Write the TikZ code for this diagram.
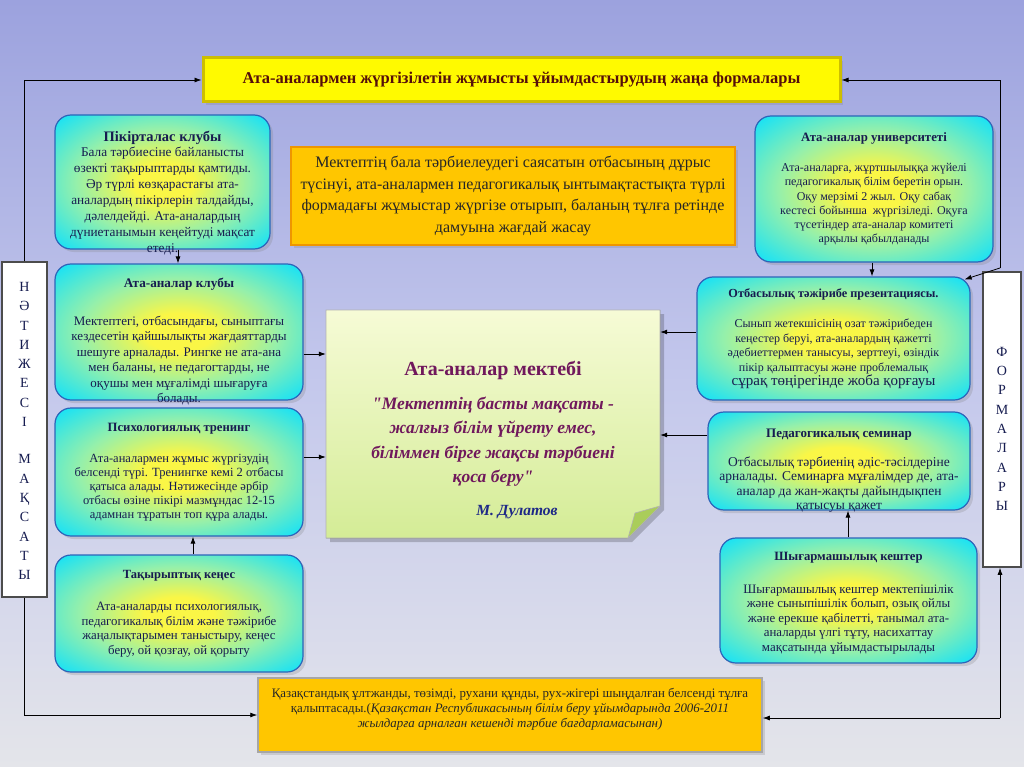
\documentclass[tikz,border=0pt]{standalone}
\usepackage{fontspec}
\setmainfont{Liberation Serif}
\usepackage{tikz}
\usetikzlibrary{arrows.meta,positioning,shadows}

\definecolor{bgtop}{RGB}{156,162,222}
\definecolor{bgmid}{RGB}{196,200,236}
\definecolor{bgbot}{RGB}{228,229,234}
\definecolor{boxline}{RGB}{45,100,185}
\definecolor{boxin}{RGB}{250,246,70}
\definecolor{boxout}{RGB}{25,226,245}
\definecolor{boxmix}{RGB}{150,240,170}
\definecolor{ink}{RGB}{22,28,80}
\definecolor{gold}{RGB}{255,198,0}
\definecolor{goldline}{RGB}{238,150,0}
\definecolor{titlebar}{RGB}{255,250,0}
\definecolor{titleline}{RGB}{205,190,0}
\definecolor{titleink}{RGB}{85,15,10}
\definecolor{notein}{RGB}{246,251,214}
\definecolor{noteout}{RGB}{212,236,150}
\definecolor{notefold}{RGB}{170,205,90}
\definecolor{quoteink}{RGB}{112,24,92}
\definecolor{authorink}{RGB}{30,40,135}

\pgfdeclareradialshading{boxglow}{\pgfpoint{0bp}{0bp}}{color(0bp)=(boxin); color(7bp)=(boxin);
  color(20bp)=(boxmix); color(34bp)=(boxout); color(50bp)=(boxout)}

\begin{document}
\begin{tikzpicture}[x=1pt,y=-1pt,
  form/.style={draw=boxline,line width=1.2pt,rounded corners=16pt,shading=boxglow,
    align=center,text=ink,inner sep=2pt,drop shadow={opacity=0.25,shadow xshift=3pt,shadow yshift=-3pt}},
  formtext/.style={align=center,text=ink,inner sep=0pt},
  bar/.style={draw=gray!60!black,line width=1.5pt,fill=white,inner sep=0pt},
  letters/.style={align=center,text=ink,font=\fontsize{14}{19.3}\selectfont},
  plate/.style={fill=gold,draw=goldline,line width=1.5pt,align=center,inner sep=2pt,
    drop shadow={opacity=0.25,shadow xshift=3pt,shadow yshift=-3pt}},
  link/.style={-{Latex[length=7pt,width=5pt]},color=black,line width=0.8pt}]

\fill[top color=bgtop,bottom color=bgbot,middle color=bgmid] (0,0) rectangle (1024,767);

\node[fill=titlebar,draw=titleline,line width=3pt,minimum width=637,minimum height=44,
  font=\bfseries\fontsize{16.5}{18}\selectfont,text=titleink,
  drop shadow={opacity=0.25,shadow xshift=3pt,shadow yshift=-3pt}] (title) at (521.5,80)
  {Ата-аналармен жүргізілетін жұмысты ұйымдастырудың жаңа формалары};

\node[plate,minimum width=444,minimum height=98,font=\fontsize{16}{21.5}\selectfont,text=black!85] (goal) at (513,196)
  {Мектептің бала тәрбиелеудегі саясатын отбасының дұрыс\\
   түсінуі, ата-аналармен педагогикалық ынтымақтастықта түрлі\\
   формадағы жұмыстар жүргізе отырып, баланың тұлға ретінде\\
   дамуына жағдай жасау};

\node[plate,draw=gray!70,minimum width=504,minimum height=74,font=\fontsize{12.9}{15}\selectfont,text=black!85] (res) at (510,715)
  {Қазақстандық ұлтжанды, төзімді, рухани құнды, рух-жігері шыңдалған белсенді тұлға\\
   қалыптасады.(\textit{Қазақстан Республикасының білім беру ұйымдарында 2006-2011}\\
   \textit{жылдарға арналған кешенді тәрбие бағдарламасынан)}\\[-1pt]};

\node[form,minimum width=215,minimum height=134] (L1) at (162.5,182) {};
\node[formtext,font=\fontsize{13.3}{16}\selectfont] (L1text) at (162.5,193)
  {{\bfseries\fontsize{14.5}{15}\selectfont Пікірталас клубы}\\[-1pt]
   Бала тәрбиесіне байланысты\\
   өзекті тақырыптарды қамтиды.\\
   Әр түрлі көзқарастағы ата-\\
   аналардың пікірлерін талдайды,\\
   дәлелдейді. Ата-аналардың\\
   дүниетанымын кеңейтуді мақсат\\
   етеді.};

\node[form,minimum width=248,minimum height=136] (L2) at (179,332) {};
\node[formtext,font=\fontsize{13}{15.5}\selectfont] (L2text) at (179,342)
  {{\bfseries\fontsize{13.2}{15}\selectfont Ата-аналар клубы}\\[22pt]
   Мектептегі, отбасындағы, сыныптағы\\
   кездесетін қайшылықты жағдаяттарды\\
   шешуге арналады. Рингке не ата-ана\\
   мен баланы, не педагогтарды, не\\
   оқушы мен мұғалімді шығаруға\\
   болады.};

\node[form,minimum width=248,minimum height=128,font=\fontsize{12.5}{14}\selectfont] (L3) at (179,472)
  {{\bfseries\fontsize{12.7}{14}\selectfont Психологиялық тренинг}\\[17pt]
   Ата-аналармен жұмыс жүргізудің\\
   белсенді түрі. Тренингке кемі 2 отбасы\\
   қатыса алады. Нәтижесінде әрбір\\
   отбасы өзіне пікірі мазмұндас 12-15\\
   адамнан тұратын топ құра алады.};

\node[form,minimum width=248,minimum height=117,font=\fontsize{12.8}{14.5}\selectfont] (L4) at (179,613.5)
  {{\bfseries\fontsize{12.5}{14}\selectfont Тақырыптық кеңес}\\[18pt]
   Ата-аналарды психологиялық,\\
   педагогикалық білім және тәжірибе\\
   жаңалықтарымен таныстыру, кеңес\\
   беру, ой қозғау, ой қорыту};

\node[form,minimum width=238,minimum height=146,font=\fontsize{12}{14.2}\selectfont] (R1) at (874,189)
  {{\bfseries\fontsize{12.8}{14}\selectfont Ата-аналар университеті}\\[16pt]
   Ата-аналарға, жұртшылыққа жүйелі\\
   педагогикалық білім беретін орын.\\
   Оқу мерзімі 2 жыл. Оқу сабақ\\
   кестесі бойынша \ жүргізіледі. Оқуға\\
   түсетіндер ата-аналар комитеті\\
   арқылы қабылданады};

\node[form,minimum width=273,minimum height=123,font=\fontsize{12}{14.5}\selectfont] (R2) at (833.5,338.5)
  {{\bfseries\fontsize{12.3}{14}\selectfont Отбасылық тәжірибе презентациясы.}\\[16pt]
   Сынып жетекшісінің озат тәжірибеден\\
   кеңестер беруі, ата-аналардың қажетті\\
   әдебиеттермен танысуы, зерттеуі, өзіндік\\
   пікір қалыптасуы және проблемалық\\
   {\fontsize{15}{14.5}\selectfont сұрақ төңірегінде жоба қорғауы}};

\node[form,minimum width=262,minimum height=98] (R3) at (839,461) {};
\node[formtext,font=\fontsize{13.5}{14.5}\selectfont] (R3text) at (839,471)
  {{\bfseries\fontsize{13}{14}\selectfont Педагогикалық семинар}\\[14pt]
   Отбасылық тәрбиенің әдіс-тәсілдеріне\\
   арналады. Семинарға мұғалімдер де, ата-\\
   аналар да жан-жақты дайындықпен\\
   қатысуы қажет};

\node[form,minimum width=257,minimum height=125,font=\fontsize{12.9}{14.5}\selectfont] (R4) at (848.5,600.5)
  {\rule{0pt}{14pt}{\bfseries\fontsize{12.7}{14}\selectfont Шығармашылық кештер}\\[18pt]
   Шығармашылық кештер мектепішілік\\
   және сыныпішілік болып, озық ойлы\\
   және ерекше қабілетті, танымал ата-\\
   аналарды үлгі тұту, насихаттау\\
   мақсатында ұйымдастырылады};

\fill[black,opacity=0.2] (330,314) -- (664,314) -- (664,510) -- (632,542) -- (330,542) -- cycle;
\fill[top color=notein,bottom color=noteout,draw=gray!60,line width=0.8pt]
  (326,310) -- (660,310) -- (660,506) -- (628,538) -- (326,538) -- cycle;
\fill[notefold,draw=gray!60,line width=0.6pt] (628,538) -- (635,513) -- (660,506) -- cycle;
\node[minimum width=334,align=center,text=quoteink,
  font=\bfseries\itshape\fontsize{17.5}{24.3}\selectfont\addfontfeatures{Ligatures=TeXOff}] (school) at (493,440)
  {{\upshape\fontsize{20}{22}\selectfont Ата-аналар мектебі}\\[10pt]
   "Мектептің басты мақсаты -\\
   жалғыз білім үйрету емес,\\
   біліммен бірге жақсы тәрбиені\\
   қоса беру"\\[9pt]
   \hspace*{48pt}{\fontsize{15.5}{16}\selectfont\color{authorink}М. Дулатов}};

\node[bar,minimum width=45,minimum height=335] (lbar) at (24.5,429.5) {};
\node[letters] (lbarText) at (24.5,431)
  {Н\\Ә\\Т\\И\\Ж\\Е\\С\\І\\[18pt]М\\А\\Қ\\С\\А\\Т\\Ы};
\node[bar,minimum width=38,minimum height=295] (rbar) at (1002,419.5) {};
\node[letters] (rbarText) at (1002,429)
  {Ф\\О\\Р\\М\\А\\Л\\А\\Р\\Ы};

\coordinate (topL) at (24,80);
\coordinate (botL) at (24,718);
\coordinate (topR) at (1000,268);
\coordinate (botR) at (1000,718);
\coordinate (a1) at (0,354);
\coordinate (a2) at (0,457);
\coordinate (a3) at (0,332);
\coordinate (a4) at (0,435);
\coordinate (v1) at (178,0);
\coordinate (v2) at (193,0);
\coordinate (v3) at (872,0);
\coordinate (v4) at (848,0);

\draw[link] (lbar.north -| topL) |- (title.west);
\draw[link] (lbar.south -| botL) |- (res.west);
\draw[link] (topR) |- (title.east);
\draw[link] (topR) -- ([xshift=-6pt,yshift=-3pt]R2.north east);
\draw[link] (botR) -- (rbar.south -| botR);
\draw[link] (botR) -- (res.east |- botR);

\draw[link] (L2.east |- a1) -- (school.west |- a1);
\draw[link] (L3.east |- a2) -- (school.west |- a2);
\draw[link] (R2.west |- a3) -- (school.east |- a3);
\draw[link] (R3.west |- a4) -- (school.east |- a4);

\draw[link] (L1.south -| v1) -- (L2.north -| v1);
\draw[link] (L4.north -| v2) -- (L3.south -| v2);
\draw[link] (R1.south -| v3) -- (R2.north -| v3);
\draw[link] (R4.north -| v4) -- (R3.south -| v4);
\end{tikzpicture}
\end{document}
